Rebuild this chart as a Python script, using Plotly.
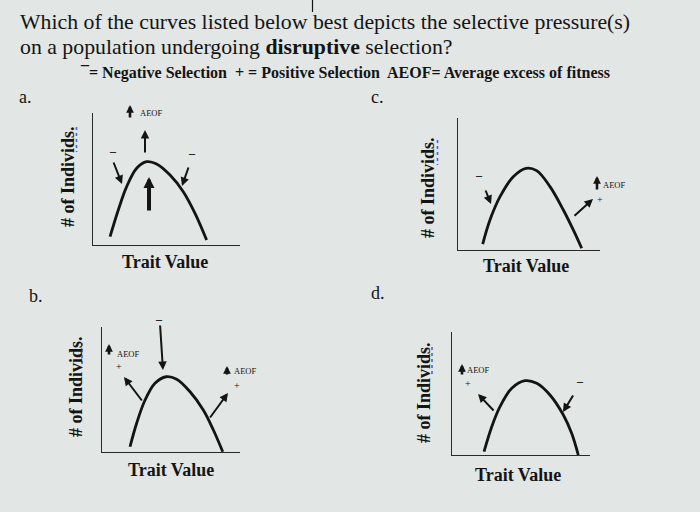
import plotly.graph_objects as go

W, H = 700, 512

# ---------------- data (trait value vs. number of individuals) ----------------
a_trait = [1.16, 1.72, 2.29, 2.97, 3.65, 4.33, 5.24, 6.14, 6.94, 7.73]
a_count = [0.63, 2.65, 4.42, 5.81, 6.31, 6.14, 5.30, 4.04, 2.40, 0.38]

b_trait = [2.03, 2.51, 3.12, 3.84, 4.64, 5.41, 6.38, 7.34, 8.07, 8.75]
b_count = [0.42, 2.30, 4.16, 5.50, 6.02, 5.82, 4.82, 3.36, 1.76, 0.02]

c_trait = [1.74, 2.25, 2.96, 3.89, 4.79, 5.54, 6.48, 7.42, 8.12, 8.71]
c_count = [0.45, 2.27, 4.04, 5.55, 6.19, 6.01, 4.80, 3.03, 1.52, 0.13]

d_trait = [2.32, 2.88, 3.48, 4.33, 5.29, 6.14, 7.10, 8.07, 8.67, 9.15]
d_count = [0.27, 2.30, 3.93, 5.42, 6.04, 5.83, 4.88, 3.25, 1.76, 0.00]

panel_labels = ["a.", "b.", "c.", "d."]
y_title = "# of Individs."
x_title = "Trait Value"
question_1 = "Which of the curves listed below best depicts the selective pressure(s)"
question_2 = "on a population undergoing <b>disruptive</b> selection?"
key_text = "¯= Negative Selection  + = Positive Selection  AEOF= Average excess of fitness"

# ---------------- helpers ----------------
def px(x):
    return x / W

def py(y):
    return 1 - y / H

SERIF = "Liberation Serif, Times New Roman, serif"
INK = "#141414"
BG = "#e2e6e5"

fig = go.Figure()

# panel geometry in pixels: (left, right, top, bottom)
panels = {
    "a": dict(box=(93, 240, 113, 245), x=a_trait, y=a_count, ax="x", ay="y"),
    "b": dict(box=(102, 240, 327, 452), x=b_trait, y=b_count, ax="x2", ay="y2"),
    "c": dict(box=(458, 600, 118, 250), x=c_trait, y=c_count, ax="x3", ay="y3"),
    "d": dict(box=(452, 590, 332, 455), x=d_trait, y=d_count, ax="x4", ay="y4"),
}

layout_axes = {}
for i, (k, p) in enumerate(panels.items()):
    l, r, t, b = p["box"]
    sfx = "" if i == 0 else str(i + 1)
    fig.add_trace(go.Scatter(
        x=p["x"], y=p["y"], xaxis=p["ax"], yaxis=p["ay"], mode="lines",
        line=dict(color=INK, width=2.8, shape="spline", smoothing=1.0),
        hoverinfo="skip", showlegend=False))
    layout_axes["xaxis" + sfx] = dict(
        domain=[px(l), px(r)], range=[0, 10], anchor="y" + sfx,
        showline=True, linecolor="#2a2a2a", linewidth=1.3,
        showgrid=False, zeroline=False, showticklabels=False, ticks="")
    layout_axes["yaxis" + sfx] = dict(
        domain=[py(b), py(t)], range=[0, 10], anchor="x" + sfx,
        showline=True, linecolor="#2a2a2a", linewidth=1.3,
        showgrid=False, zeroline=False, showticklabels=False, ticks="")

ann = []

def text(x, y, s, size, family=SERIF, bold=False, angle=0, anchor="center"):
    ann.append(dict(x=px(x), y=py(y), xref="paper", yref="paper", text=("<b>%s</b>" % s) if bold else s,
                    showarrow=False, font=dict(family=family, size=size, color=INK),
                    xanchor=anchor, yanchor="middle", textangle=angle))

def arrow(hx, hy, tx, ty, w=2.0, size=0.8):
    ann.append(dict(x=px(hx), y=py(hy), xref="paper", yref="paper", text="",
                    showarrow=True, ax=tx - hx, ay=ty - hy, axref="pixel", ayref="pixel",
                    arrowhead=2, arrowsize=size, arrowwidth=w, arrowcolor=INK, standoff=0))

# header text
text(18, 22, question_1, 21.8, family=SERIF, anchor="left")
text(18, 47, question_2, 21.8, family=SERIF, anchor="left")
text(78, 73, key_text, 16, bold=True, anchor="left")

# panel letters
text(25, 97, panel_labels[0], 18)
text(36, 296, panel_labels[1], 18)
text(377, 97, panel_labels[2], 18)
text(378, 293, panel_labels[3], 18)

# axis titles
for (cx, cy) in [(68, 177), (76, 387), (428, 188), (424, 393)]:
    text(cx, cy, y_title, 18, bold=True, angle=-90)
for (cx, cy) in [(165, 262), (171, 470), (526, 266), (518, 475)]:
    text(cx, cy, x_title, 18, bold=True)

DASH = 12
MINUS = "<b>–</b>"
# ---- panel a marks
arrow(130, 105, 130, 119, w=2.6, size=0.6)
text(151, 113, "AEOF", 8.5)
arrow(145, 130, 145, 154, w=2.0, size=0.85)
arrow(149, 177, 149, 212, w=4.0, size=0.55)
text(113, 151, MINUS, DASH)
text(192, 153, MINUS, DASH)
arrow(122, 184, 113, 161, w=2.0, size=0.85)
arrow(182, 186, 189, 166, w=2.0, size=0.85)

# ---- panel b marks
text(159, 319, MINUS, DASH)
arrow(163, 370, 160, 324, w=2.0, size=0.85)
arrow(109, 344, 109, 356, w=2.6, size=0.6)
text(127.5, 354, "AEOF", 8.5)
text(119, 366, "+", 10)
arrow(124, 377, 143, 402, w=2.0, size=0.85)
arrow(227, 366, 227, 376, w=2.6, size=0.6)
text(245, 371, "AEOF", 8.5)
text(237, 385, "+", 10)
arrow(228, 393, 209, 419, w=2.0, size=0.85)

# ---- panel c marks
text(479, 175, MINUS, DASH)
arrow(491, 204, 485, 189, w=2.0, size=0.85)
arrow(593, 199, 573, 217, w=2.0, size=0.85)
arrow(597, 176, 597, 191, w=2.6, size=0.6)
text(614, 185, "AEOF", 8.5)
text(600, 199, "+", 10)

# ---- panel d marks
arrow(462, 364, 462, 376, w=2.6, size=0.6)
text(477.5, 370, "AEOF", 8.5)
text(468, 383, "+", 10)
arrow(478, 394, 495, 412, w=2.0, size=0.85)
text(580, 381, MINUS, DASH)
arrow(563, 412, 574, 394, w=2.0, size=0.85)

shapes = []
# spell-check wavy underline under "Individs."
for (x0, y0, y1) in [(76.5, 127, 152), (437.5, 140, 165), (82, 343, 368), (432, 347, 375)]:
    shapes.append(dict(type="line", xref="paper", yref="paper", x0=px(x0), x1=px(x0),
                       y0=py(y0), y1=py(y1), line=dict(color="#4b5fd6", width=1.6, dash="dot")))
# small stray mark at top
shapes.append(dict(type="line", xref="paper", yref="paper", x0=px(312.5), x1=px(312.5),
                   y0=py(0), y1=py(12), line=dict(color=INK, width=1.2)))

fig.update_layout(
    width=W, height=H, margin=dict(l=0, r=0, t=0, b=0),
    paper_bgcolor=BG, plot_bgcolor="rgba(0,0,0,0)",
    annotations=ann, shapes=shapes, showlegend=False, **layout_axes)

fig.write_html("out.html", config={"displayModeBar": False},
               post_script="document.body.style.margin='0';")
